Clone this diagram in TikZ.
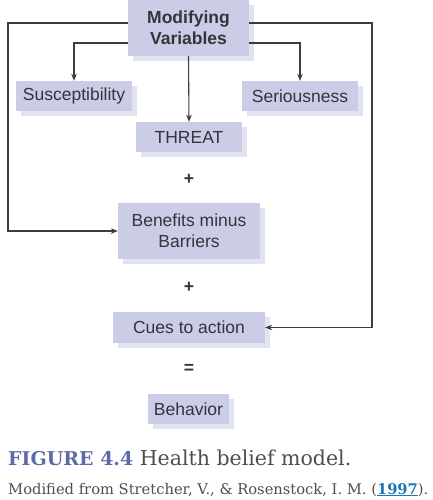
\documentclass[tikz,border=0pt]{standalone}
\usepackage{fontspec}
\usetikzlibrary{arrows.meta,shadows}
\newfontfamily\hbmsans{Liberation Sans}
\newfontfamily\hbmserif{DejaVu Serif}
\newcommand{\hbmsize}{\fontsize{17.5}{21}\selectfont}
\definecolor{hbmbox}{RGB}{203,205,230}
\definecolor{hbmshade}{RGB}{226,227,240}
\definecolor{hbmtext}{RGB}{52,52,60}
\definecolor{hbmline}{RGB}{60,60,60}
\definecolor{hbmfig}{RGB}{92,106,168}
\definecolor{hbmcap}{RGB}{78,78,78}
\definecolor{hbmlink}{RGB}{30,118,180}

\begin{document}
\begin{tikzpicture}[x=1pt, y=-1pt,
    >={Stealth[length=7pt,width=5.5pt]},
    conn/.style={draw=hbmline, line width=1.1pt, ->},
    box/.style={fill=hbmbox, text=hbmtext, inner sep=0pt, align=center,
      font=\hbmsans\hbmsize,
      drop shadow={fill=hbmshade, opacity=1, shadow xshift=5pt, shadow yshift=-5pt}},
    op/.style={text=hbmtext, font=\hbmsans\bfseries\hbmsize},
    captext/.style={anchor=base west, inner sep=0pt, text=hbmcap},
  ]
  \useasboundingbox (0,0) rectangle (433,500);

  \node[box, font=\hbmsans\bfseries\hbmsize, minimum width=121pt, minimum height=56pt]
    (mv) at (188.5,28) {Modifying\\Variables};
  \node[box, minimum width=116pt, minimum height=30pt] (sus) at (74,96)  {Susceptibility};
  \node[box, minimum width=116pt, minimum height=30pt] (ser) at (300,96) {Seriousness};
  \node[box, minimum width=106pt, minimum height=30pt] (thr) at (189,137) {THREAT};
  \node[box, minimum width=142pt, minimum height=56pt] (ben) at (189,231) {Benefits minus\\Barriers};
  \node[box, minimum width=152pt, minimum height=31pt] (cue) at (189,327.5) {Cues to action};
  \node[box, minimum width=81pt, minimum height=30pt]  (beh) at (188.5,409) {Behavior};

  \node[op] (plus1) at (189,179) {+};
  \node[op] (plus2) at (189,287) {+};
  \node[op] (eq)    at (189,369) {=};

  % outer loops
  \coordinate (lft) at (8,23);
  \coordinate (rgt) at (372,23);
  \draw[conn] ([yshift=5pt]mv.west) -- (lft) |- (ben.west);
  \draw[conn] ([yshift=5pt]mv.east) -- (rgt) |- (cue.east);

  \draw[conn] ([yshift=-15pt]mv.west) -| (sus.north);
  \draw[conn] ([yshift=-15pt]mv.east) -| (ser.north);
  \draw[conn] (mv.south) -- (thr.north);

  \node[captext, font=\hbmserif\fontsize{20.5}{24}\selectfont] (fig) at (8,465)
    {{\bfseries\fontsize{19}{22}\selectfont\color{hbmfig}FIGURE 4.4} Health belief model.};
  \node[captext, font=\hbmserif\fontsize{14.7}{17}\selectfont] (src) at (8,494)
    {Modified from Stretcher, V., \& Rosenstock, I. M. ({\bfseries\color{hbmlink}\underline{1997}}).};

\end{tikzpicture}
\end{document}
